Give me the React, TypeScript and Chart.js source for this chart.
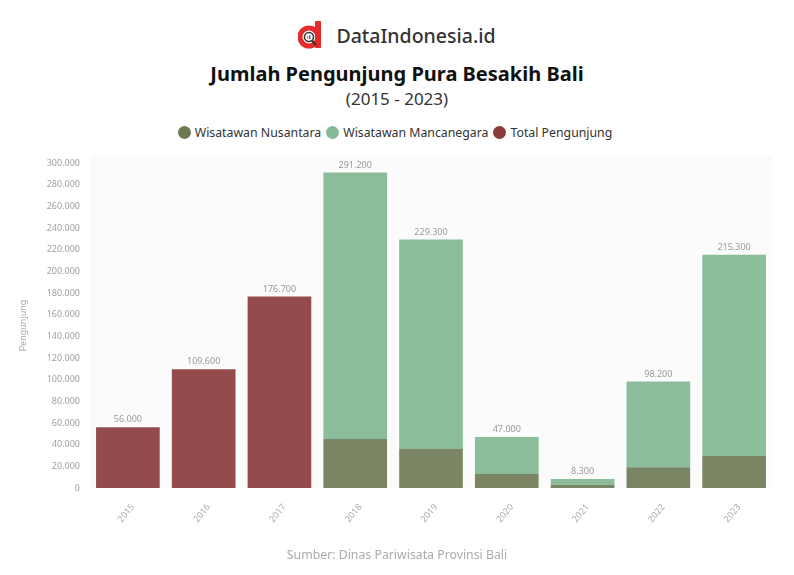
import React, { useEffect, useRef } from "react";
import { Chart, registerables } from "chart.js";

Chart.register(...registerables);

const years = ["2015", "2016", "2017", "2018", "2019", "2020", "2021", "2022", "2023"];
const nusantara = [null, null, null, 45200, 36100, 13000, 3100, 19200, 29600];
const mancanegara = [null, null, null, 246000, 193200, 34000, 5200, 79000, 185700];
const totalOnly = [56000, 109600, 176700, null, null, null, null, null, null];
const yTicks = [0, 20000, 40000, 60000, 80000, 100000, 120000, 140000, 160000, 180000, 200000, 220000, 240000, 260000, 280000, 300000];

const seriesNames = ["Wisatawan Nusantara", "Wisatawan Mancanegara", "Total Pengunjung"];
const seriesColors = ["#7a8564", "#8bbd9b", "#944b4b"];
const legendColors = ["#6e7853", "#86bb98", "#8d3b3b"];

const fmt = (v: number) => Math.round(v).toString().replace(/\B(?=(\d{3})+(?!\d))/g, ".");

const FONT = "'Noto Sans', sans-serif";

export default function App() {
  const ref = useRef<HTMLCanvasElement | null>(null);
  useEffect(() => {
    if (!ref.current) return;
    const totals = years.map((_, i) =>
      (totalOnly[i] ?? 0) + (nusantara[i] ?? 0) + (mancanegara[i] ?? 0)
    );
    const bgPlugin = {
      id: "bgArea",
      beforeDraw(chart: any) {
        const { ctx, chartArea } = chart;
        ctx.save();
        ctx.fillStyle = "#fbfbfb";
        ctx.fillRect(chartArea.left, chartArea.top - 8, chartArea.right - chartArea.left, chartArea.bottom - chartArea.top + 8);
        ctx.restore();
      },
    };
    const labelPlugin = {
      id: "totLabels",
      afterDatasetsDraw(chart: any) {
        const { ctx } = chart;
        const xs = chart.scales.x;
        const ys = chart.scales.y;
        ctx.save();
        ctx.font = `9px ${FONT}`;
        ctx.fillStyle = "#9a9a9a";
        ctx.textAlign = "center";
        ctx.textBaseline = "bottom";
        totals.forEach((t, i) => {
          ctx.fillText(fmt(t), xs.getPixelForValue(i), ys.getPixelForValue(t) - 3);
        });
        ctx.restore();
      },
    };
    const chart = new Chart(ref.current, {
      type: "bar",
      data: {
        labels: years,
        datasets: [
          { label: seriesNames[0], data: nusantara as any, backgroundColor: seriesColors[0], stack: "s" },
          { label: seriesNames[1], data: mancanegara as any, backgroundColor: seriesColors[1], stack: "s" },
          { label: seriesNames[2], data: totalOnly as any, backgroundColor: seriesColors[2], stack: "s" },
        ],
      },
      options: {
        animation: false,
        responsive: false,
        maintainAspectRatio: false,
        layout: { padding: { left: 18, right: 22, top: 20, bottom: 0 } },
        plugins: { legend: { display: false }, tooltip: { enabled: false } },
        datasets: { bar: { barPercentage: 0.84, categoryPercentage: 1 } },
        scales: {
          x: {
            stacked: true,
            grid: { display: false },
            border: { display: false },
            ticks: { color: "#aaaaaa", font: { size: 9, family: FONT }, minRotation: 50, maxRotation: 50, padding: 6, labelOffset: 5 },
            afterFit(s: any) { s.height = 85; },
          },
          y: {
            stacked: true,
            min: 0,
            max: 300000,
            grid: { display: false },
            border: { display: false },
            afterBuildTicks(s: any) { s.ticks = yTicks.map((v) => ({ value: v })); },
            ticks: { color: "#a0a0a0", font: { size: 9, family: FONT }, padding: 2, callback: (v: any) => fmt(Number(v)) },
            title: { display: true, text: "Pengunjung", color: "#aaaaaa", font: { size: 9, family: FONT }, padding: { top: 0, bottom: 0 } },
            afterFit(s: any) { s.width = 72; },
          },
        },
      },
      plugins: [bgPlugin, labelPlugin],
    });
    return () => chart.destroy();
  }, []);

  return (
    <div style={{ position: "fixed", left: 0, top: 0, width: 794, height: 575, background: "#fff", fontFamily: FONT, overflow: "hidden" }}>
      <div style={{ position: "absolute", top: 21, left: 0, width: 794, display: "flex", justifyContent: "center", alignItems: "center" }}>
        <svg width="26" height="28" viewBox="0 0 26 28" style={{ marginRight: 12 }}>
          <rect x="17" y="0" width="6" height="27" rx="1" fill="#e32b2b" />
          <circle cx="11" cy="16" r="9" fill="none" stroke="#e32b2b" strokeWidth="5" />
          <circle cx="11" cy="16" r="4.5" fill="#fff" stroke="#333" strokeWidth="1.5" />
          <rect x="9" y="15" width="1.5" height="3" fill="#e5a823" />
          <rect x="11" y="14" width="1.5" height="4" fill="#3a7bd5" />
          <line x1="14" y1="19.5" x2="18" y2="24" stroke="#333" strokeWidth="2" />
        </svg>
        <span style={{ fontSize: 19.5, fontWeight: 500, color: "#333" }}>DataIndonesia.id</span>
      </div>
      <div style={{ position: "absolute", top: 60, left: 0, width: 794, textAlign: "center", fontSize: 20, fontWeight: 700, color: "#111" }}>
        Jumlah Pengunjung Pura Besakih Bali
      </div>
      <div style={{ position: "absolute", top: 87, left: 0, width: 794, textAlign: "center", fontSize: 17, color: "#333" }}>
        (2015 - 2023)
      </div>
      <div style={{ position: "absolute", top: 124, left: 0, width: 790, display: "flex", justifyContent: "center", alignItems: "center", fontSize: 12.3, color: "#333" }}>
        {seriesNames.map((n, i) => (
          <span key={n} style={{ display: "inline-flex", alignItems: "center", marginRight: i < 2 ? 5 : 0 }}>
            <span style={{ width: 13, height: 13, borderRadius: 7, background: legendColors[i], display: "inline-block", marginRight: 4 }} />
            {n}
          </span>
        ))}
      </div>
      <canvas ref={ref} width={794} height={430} style={{ position: "absolute", left: 0, top: 143 }} />
      <div style={{ position: "absolute", top: 546, left: 0, width: 794, textAlign: "center", fontSize: 12.3, color: "#aaa" }}>
        Sumber: Dinas Pariwisata Provinsi Bali
      </div>
    </div>
  );
}
